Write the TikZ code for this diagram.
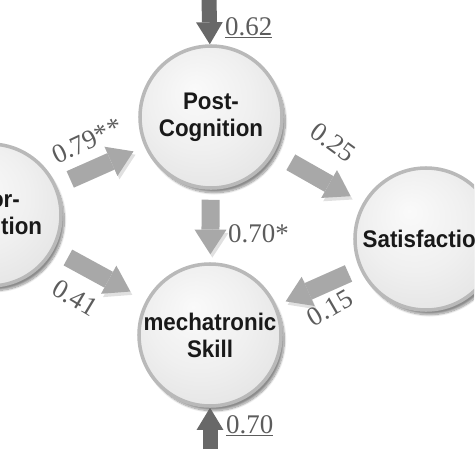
\documentclass[tikz,border=0pt]{standalone}
\usepackage{fontspec}
\setmainfont{Liberation Serif}
\setsansfont{Liberation Sans}
\newfontfamily\ballfont[FakeStretch=0.93]{Liberation Sans}
\usetikzlibrary{arrows.meta,shadows.blur}
\definecolor{arrowgray}{RGB}{168,168,168}
\definecolor{darkarrow}{RGB}{104,104,104}
\definecolor{labelgray}{RGB}{92,92,92}
\pgfdeclareradialshading{orb}{\pgfpoint{-6bp}{10bp}}{color(0bp)=(gray!4); color(18bp)=(gray!12); color(40bp)=(gray!26); color(50bp)=(gray!40)}
\tikzset{
  latent/.style={circle, minimum size=4.26cm, inner sep=0pt, draw=gray!55, line width=3pt,
    shading=orb, align=center, text=black!90, font=\ballfont\bfseries\fontsize{20.5}{23}\selectfont,
    blur shadow={shadow xshift=0.1cm, shadow yshift=-0.14cm, shadow opacity=45, shadow blur steps=12}},
  flow/.style={draw=arrowgray, line width=0.54cm, -{Triangle[length=0.74cm, width=0.96cm, line width=0pt]},
    preaction={draw=black!12, transform canvas={shift={(0.06cm,-0.1cm)}}}},
  err/.style={draw=darkarrow, line width=0.45cm, -{Triangle[length=0.66cm, width=0.8cm, line width=0pt]}},
  coef/.style={font=\fontsize{23}{27}\selectfont, text=labelgray, inner sep=0pt}
}
\begin{document}
\begin{tikzpicture}[x=0.03cm, y=-0.03cm]
  \useasboundingbox (0,0) rectangle (474,474);
  \clip (0,0) rectangle (474,474);
  \node[latent] (prior) at (-10,215) {Prior-\\Cognition};
  \node[latent] (post) at (211,117) {Post-\\Cognition};
  \node[latent] (sat) at (426,239) {Satisfaction};
  \node[latent] (mech) at (210,335) {mechatronic\\Skill};
  \draw[flow, shorten <=0.45cm, shorten >=0.36cm] (prior) -- (post);
  \draw[flow, shorten <=0.48cm, shorten >=0.54cm] (prior) -- (mech);
  \draw[flow, shorten <=0.57cm, shorten >=0.42cm] (post) -- (sat);
  \draw[flow, shorten <=0.36cm, shorten >=0.30cm] (sat) -- (mech);
  \draw[flow, shorten <=0.30cm, shorten >=0.24cm] (post) -- (mech);
  \coordinate (e62) at (209,-4);
  \coordinate (e70) at (210,449);
  \draw[err] (e62) -- (post);
  \draw[err] (e70) -- (mech);
  \node[coef, anchor=base west] (c62) at (225,35) {\underline{0.62}};
  \node[coef, anchor=base west] (c70) at (226,433) {\underline{0.70}};
  \node[coef, anchor=base west] (c70b) at (228,242) {0.70*};
  \node[coef, rotate=25] (c79) at (87,141) {0.79**};
  \node[coef, rotate=-31] (c41) at (75,298) {0.41};
  \node[coef, rotate=-36] (c25) at (333,142) {0.25};
  \node[coef, rotate=30] (c15) at (330,308) {0.15};
\end{tikzpicture}
\end{document}
